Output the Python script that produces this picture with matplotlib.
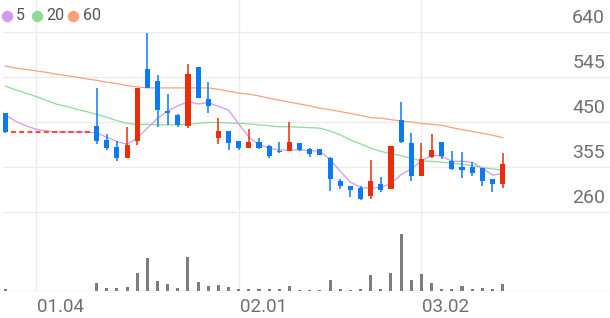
import matplotlib.pyplot as plt
from matplotlib.lines import Line2D
import numpy as np

plt.rcParams['font.family'] = ['Roboto', 'DejaVu Sans']

# daily candles, 50 trading days (first day 12.28)
opens = [468, 428, 428, 428, 428, 428, 428, 428, 428, 441, 411, 398, 373, 409, 561,
         537, 473, 465, 441, 566, 498, 416, 430, 409, 396, 407, 400, 389, 389, 405,
         393, 393, 375, 325, 314, 311, 293, 319, 309, 454, 405, 337, 377, 407, 367,
         356, 354, 353, 330, 320]
highs = [470, 428, 428, 428, 428, 428, 428, 428, 428, 522, 425, 409, 440, 522, 638,
         550, 510, 466, 573, 567, 535, 459, 431, 410, 435, 416, 401, 407, 451, 406,
         396, 394, 376, 330, 315, 314, 369, 333, 400, 493, 426, 405, 424, 408, 389,
         386, 365, 353, 330, 384]
lows = [427, 428, 428, 428, 428, 428, 428, 428, 428, 403, 391, 367, 373, 402, 521,
        439, 444, 440, 438, 500, 470, 403, 391, 391, 396, 393, 375, 385, 389, 389,
        376, 380, 304, 309, 291, 285, 288, 302, 308, 406, 326, 337, 374, 372, 349,
        332, 335, 314, 302, 311]
closes = [428, 428, 428, 428, 428, 428, 428, 428, 428, 409, 396, 374, 402, 522, 522,
          475, 470, 444, 552, 501, 484, 430, 405, 396, 407, 396, 379, 386, 407, 391,
          382, 381, 330, 315, 306, 288, 326, 307, 400, 407, 337, 372, 391, 379, 351,
          349, 342, 326, 319, 362]
volumes = [1700, 0, 0, 0, 0, 0, 0, 0, 0, 7700, 2700, 2700, 4300, 18300, 32700,
           10300, 7000, 3000, 33700, 9300, 5000, 5700, 3700, 1700, 1700, 1700, 1700, 1700, 5000, 1300,
           1300, 1300, 11300, 2300, 1500, 2300, 15700, 2300, 18000, 57300, 11300, 16700, 8000, 2300, 2300,
           5000, 2300, 2700, 2300, 6700]

ma5 = [465, 452, 442, 435, 431, 429, 429, 429, 429, 427, 418, 409, 403, 416, 437,
       458, 473, 484, 493, 488, 491, 483, 475, 446, 418, 402, 395, 391, 391, 391,
       390, 388, 371, 346, 323, 312, 310, 312, 320, 339, 351, 368, 380, 378, 367,
       367, 365, 353, 338, 341]
ma20 = [526, 518, 511, 504, 496, 488, 483, 477, 472, 466, 460, 453, 447, 445, 445,
        444, 444, 444, 445, 447, 449, 449, 448, 447, 446, 444, 442, 440, 440, 439,
        438, 437, 431, 423, 412, 404, 395, 388, 383, 379, 373, 368, 367, 365, 363,
        361, 358, 354, 351, 348]
ma60 = [568, 564, 561, 558, 555, 551, 548, 545, 541, 538, 534, 531, 527, 524, 522,
        522, 522, 522, 522, 522, 522, 519, 515, 511, 509, 505, 500, 496, 492, 488,
        484, 479, 476, 472, 468, 464, 459, 458, 455, 452, 450, 447, 445, 443, 438,
        434, 430, 426, 422, 417]

tick_pos = [3, 23, 41]
tick_labels = ['01.04', '02.01', '03.02']
price_ticks = [640, 545, 450, 355, 260]

UP = '#eb2d0a'
DOWN = '#0c7af2'
MA_COLORS = {'5': '#d697f0', '20': '#8edc98', '60': '#f9a17a'}
GRID = '#ececec'

W, H = 610, 318
fig = plt.figure(figsize=(W / 100, H / 100), dpi=100)
ax = fig.add_axes([0, 1 - 212 / H, 1, 180 / H])
axv = fig.add_axes([0, 1 - 291 / H, 1, 79 / H])
x = np.arange(len(closes))
for a in (ax, axv):
    a.set_xlim(-0.52, 59.58)
    a.axis('off')
ax.set_ylim(260, 640)
axv.set_ylim(0, 79000)

# grid + price labels
for t in price_ticks:
    ax.axhline(t, xmin=0.005, color=GRID, lw=1, zorder=0, clip_on=False)
    ax.annotate(str(t), xy=(1, t), xycoords=('axes fraction', 'data'),
                xytext=(-5, 14), textcoords='offset pixels', ha='right', va='center',
                fontsize=14, color='#707070')
for p, lab in zip(tick_pos, tick_labels):
    ax.axvline(p, ymin=0, ymax=1 + 32 / 180, color=GRID, lw=1, zorder=0, clip_on=False)
    axv.axvline(p, color=GRID, lw=1, zorder=0)
    axv.annotate(lab, xy=(p, 0), xycoords=('data', 'axes fraction'),
                 xytext=(1, -16), textcoords='offset pixels', ha='left', va='center',
                 fontsize=13.5, color='#707070')
axv.axhline(0, xmin=0.005, color='#e2e2e2', lw=1, zorder=0)

# moving averages
ax.plot(x, ma60, color=MA_COLORS['60'], lw=0.9, zorder=2)
ax.plot(x, ma20, color=MA_COLORS['20'], lw=0.9, zorder=2)
ax.plot(x, ma5, color=MA_COLORS['5'], lw=0.9, zorder=2)

# days without trades -> dashed line at last close
i = 0
while i < len(x):
    if volumes[i] == 0:
        j = i
        while j + 1 < len(x) and volumes[j + 1] == 0:
            j += 1
        ax.plot([i - 0.45, j + 0.45], [closes[i], closes[i]], color='#e8563f',
                lw=1.6, ls=(0, (2.2, 1.5)), zorder=2)
        i = j + 1
    else:
        i += 1

# candles
for i in x:
    if volumes[i] == 0:
        continue
    o, c = opens[i], closes[i]
    col = UP if c > o else DOWN
    ax.vlines(i, lows[i], highs[i], color=col, lw=1.1, zorder=3)
    lo, hi = min(o, c), max(o, c)
    ax.bar(i, max(hi - lo, 2.5), bottom=lo, width=0.5, color=col, zorder=3)

# volume
axv.bar(x, volumes, width=0.3, color='#7d7d7d', zorder=2)

# legend
leg = [(6.7, '5', 16), (36.7, '20', 46), (73.3, '60', 82.5)]
for dx, name, tx in leg:
    fig.add_artist(Line2D([dx / W], [1 - 16 / H], marker='o', ms=7.2, ls='',
                          color=MA_COLORS[name], transform=fig.transFigure))
    fig.text(tx / W, 1 - 16 / H, name, ha='left', va='center', fontsize=11.5, color='#555555')

fig.savefig('out.png', dpi=100)
